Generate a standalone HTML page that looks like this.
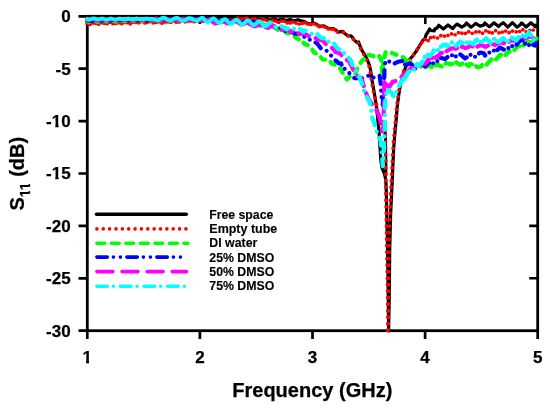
<!DOCTYPE html>
<html><head><meta charset="utf-8">
<style>
html,body{margin:0;padding:0;background:#fff;width:550px;height:408px;overflow:hidden}
svg{display:block}
text{font-family:"Liberation Sans",Arial,sans-serif;font-weight:bold;fill:#000;stroke:#000;stroke-width:0.25px}
.lg text{stroke-width:0.12px}
</style></head><body>
<svg width="550" height="408" viewBox="0 0 550 408">
<!-- frame -->
<g stroke="#000" fill="none" stroke-linecap="butt">
<rect x="87.3" y="16.3" width="450.4" height="314.4" stroke-width="2.8"/>
<!-- left ticks (outward) -->
<path stroke-width="2.7" d="M78.5 16.3H87.3M78.5 68.7H87.3M78.5 121.1H87.3M78.5 173.5H87.3M78.5 225.9H87.3M78.5 278.3H87.3M78.5 330.7H87.3"/>
<!-- bottom ticks (outward) -->
<path stroke-width="2.7" d="M87.3 330.7V339M199.9 330.7V339M312.5 330.7V339M425.1 330.7V339M537.7 330.7V339"/>
<!-- right ticks (inward) -->
<path stroke-width="2.6" d="M529.2 68.7H537.7M529.2 121.1H537.7M529.2 173.5H537.7M529.2 225.9H537.7M529.2 278.3H537.7"/>
<!-- top ticks (inward) -->
<path stroke-width="2.6" d="M199.9 16.3V24M312.5 16.3V24M425.3 16.3V24"/>
</g>
<!-- curves -->
<g id="curves" fill="none" stroke-linejoin="round" stroke-linecap="round">
<path d="M87.0 18.2 120.0 18.0 160.0 17.8 200.0 17.8 230.0 18.6 234.0 18.0 238.0 19.4 242.0 18.1 246.0 19.6 250.0 18.7 254.0 19.7 255.0 19.3 258.0 18.8 262.0 19.8 266.0 18.6 270.0 20.2 274.0 18.8 278.0 20.4 280.0 19.6 282.0 19.0 286.0 20.6 290.0 19.6 294.0 20.8 298.0 19.7 300.0 20.5 304.8 21.6 305.0 22.3 309.5 24.0 312.0 23.5 314.2 23.1 318.0 25.2 319.0 26.4 323.8 25.9 327.0 27.7 328.5 28.7 333.2 28.5 336.0 30.2 338.0 32.1 342.8 31.3 344.0 32.9 347.5 35.5 351.0 35.9 352.2 36.9 354.0 39.9 357.0 42.5 358.6 42.0 360.0 46.0 362.2 50.8 364.7 54.5 367.1 59.4 369.6 65.5 370.8 71.6 371.8 79.0 373.8 90.0 376.6 107.2 377.8 119.5 379.0 131.7 379.8 144.0 380.8 160.0 382.0 168.0 384.5 174.0 385.8 180.0 386.3 192.0 386.8 215.0 387.6 250.0 388.3 300.0 388.6 331.0 389.2 300.0 389.7 250.0 390.6 215.0 391.7 192.0 392.7 170.0 393.6 150.0 394.3 140.0 395.2 130.0 396.2 119.5 397.3 106.0 398.6 96.0 400.0 87.0 401.5 80.0 403.5 73.0 405.5 67.5 408.3 61.0 412.7 56.0 417.1 50.0 420.0 45.0 423.0 40.0 425.0 38.7 426.0 35.0 428.0 32.0 429.6 29.0 431.0 30.5 434.2 30.9 434.8 29.0 437.0 28.0 438.8 25.3 443.4 29.0 446.0 26.8 448.0 25.0 452.6 28.6 455.0 25.8 457.2 24.1 461.8 27.2 465.0 25.2 466.4 23.0 471.0 27.2 474.0 24.9 475.6 23.3 480.2 26.1 484.0 24.9 484.8 23.0 489.4 26.9 494.0 22.8 498.6 26.5 500.0 25.0 503.2 22.7 507.8 27.2 512.4 22.7 517.0 27.2 520.0 25.0 521.6 22.9 526.2 27.0 530.8 22.8 535.4 26.7 536.0 25.2" stroke="#000" stroke-width="3.2"/>
<path d="M384.9 128.0 385.5 140.0 385.8 160.0 385.9 175.0" stroke="#000" stroke-width="3"/>
<path d="M87.0 23.6 90.0 24.5 94.0 22.4 98.0 24.5 100.0 23.4 102.0 22.3 106.0 24.2 110.0 22.3 114.0 24.2 118.0 22.4 120.0 23.0 122.0 23.7 126.0 21.8 130.0 24.0 134.0 21.7 138.0 23.3 142.0 21.5 146.0 23.7 147.0 22.5 150.0 21.5 154.0 23.2 158.0 21.4 162.0 23.2 166.0 21.4 170.0 22.7 174.0 20.7 175.0 21.9 178.0 22.7 182.0 20.7 186.0 22.2 190.0 20.6 194.0 21.7 198.0 20.2 200.0 20.8 202.0 21.8 206.0 19.4 210.0 21.6 214.0 19.0 218.0 20.7 222.0 19.2 226.0 20.7 230.0 19.5 234.0 20.4 238.0 18.0 242.0 19.6 243.0 18.6 246.0 17.9 250.0 19.8 254.8 18.4 255.0 19.3 259.5 20.7 264.2 19.4 267.0 20.6 269.0 21.6 273.8 20.2 278.5 22.6 279.5 21.5 283.2 20.6 288.0 23.4 291.7 22.5 292.8 21.8 297.5 23.7 300.0 24.2 304.8 22.4 305.0 23.0 309.5 24.7 312.0 24.3 314.2 23.7 318.0 25.6 319.0 26.8 323.8 26.3 327.0 28.1 328.5 29.1 333.2 28.9 336.0 30.6" stroke="#f00" stroke-width="3.7" stroke-dasharray="0 3.2"/>
<path d="M388.0 330.2 387.8 300.0 386.8 250.0 386.3 215.0 385.8 192.0 385.8 170.0 385.5 145.0 384.8 132.0 382.0 128.0 379.5 122.0 378.1 114.6 376.2 102.8 373.4 91.0 371.4 80.0 370.4 72.6 369.2 66.5 366.8 60.4 364.5 55.5 362.0 51.5 360.0 47.0 358.6 43.0 357.0 43.2 354.0 40.3 352.2 37.3 351.0 36.3 347.5 35.9 344.0 33.3 342.8 31.7 338.0 32.5 336.0 30.6" stroke="#f00" stroke-width="3.8" stroke-dasharray="0 6.5"/>
<path d="M388.0 330.2 388.6 300.0 389.0 250.0 389.9 215.0 390.8 192.0 392.0 170.0 393.0 150.0 393.6 140.0 394.6 130.0 395.6 119.4 396.8 106.0 398.1 96.0 399.5 87.0 401.0 80.0 403.0 73.0 405.0 67.5 407.8 61.5 412.2 56.5 416.6 50.5 419.5 45.5" stroke="#f00" stroke-width="3.8" stroke-dasharray="0 6.5"/>
<path d="M419.5 45.5 422.5 41.5 425.5 39.0 428.1 40.6 428.7 38.8 432.6 36.3 434.6 37.5 437.1 38.3 439.7 36.5 441.6 35.1 446.1 36.6 448.0 35.3 450.6 33.8 454.4 33.8 455.1 34.8 459.6 32.0 464.1 34.2 468.6 31.4 469.1 32.4 473.1 33.5 477.6 30.9 482.1 33.6 483.8 32.0 486.6 30.3 491.1 33.7 495.6 30.7 500.1 33.6 504.6 30.5 509.1 32.8 509.4 31.9 513.6 30.7 518.1 32.6 522.6 29.4 524.0 30.8 527.1 32.2 531.6 29.5 536.0 30.8" stroke="#f00" stroke-width="3.7" stroke-dasharray="0 4"/>
<path d="M87.0 21.6 88.9 22.2 93.4 20.4 97.9 22.2 102.4 20.3 106.9 21.7 111.4 20.4 115.9 21.8 120.0 20.8 120.4 19.8 124.9 21.4 129.4 19.5 133.9 20.9 138.4 19.7 142.9 21.1 147.4 18.9 150.0 19.9 151.9 20.6 156.4 19.1 160.9 20.6 165.4 18.9 169.9 20.5 174.4 19.0 178.9 20.7 183.4 19.1 187.9 20.6 192.4 18.6 196.9 20.6 200.0 19.5 201.4 18.6 205.9 20.9 210.4 19.5 214.9 21.5 219.4 19.9 223.9 21.8 228.4 20.4 230.0 21.5 232.9 22.6 237.4 21.1 241.9 23.7 246.4 22.1 250.9 24.7 255.0 24.0 255.4 23.2 259.9 25.9 264.4 24.7" stroke="#0f0" stroke-width="4.0"/>
<path d="M264.4 24.7 267.0 26.0 268.9 27.3 273.4 26.5 277.9 29.7 279.5 29.1 282.4 29.3 286.9 33.2 291.4 33.0 291.7 34.0 295.9 37.6 300.0 40.0 300.4 39.3 304.9 44.3 306.4 44.4 309.4 46.2 312.8 50.3 313.9 52.4 318.4 54.2 320.7 57.2 322.9 59.6 325.0 59.7 327.4 59.3 329.9 61.0 331.9 63.6 334.8 64.6 336.4 65.1 341.0 69.5 344.6 76.9 347.1 79.4 350.8 75.7 355.7 73.2 358.1 65.9 362.4 60.6 368.2 54.7 374.0 56.2 378.5 54.7 381.2 60.0 382.3 74.0 383.4 62.0 385.9 51.5 390.3 52.5 396.0 54.5 403.4 57.5 405.7 60.7" stroke="#0f0" stroke-width="4.3" stroke-dasharray="5 6.8"/>
<path d="M405.7 60.7 410.2 61.5 410.7 63.6 414.7 66.7 416.3 66.4 419.2 65.0 423.7 68.0 427.3 66.4 428.2 65.2 432.7 67.8 437.2 64.0 439.7 65.7 441.7 66.5 446.2 63.0 450.7 64.4 454.4 62.8 455.2 61.6 459.7 64.8 464.2 62.7 468.7 66.1 469.1 64.3 473.2 64.0 477.7 67.3 480.9 66.5 482.2 65.0 486.7 65.0 487.4 63.5 491.2 59.5 494.7 59.1 495.7 59.9 500.2 54.6 504.7 55.8 509.2 50.6 509.4 51.8 513.7 50.7 518.2 45.7 522.7 46.9 524.0 44.4 527.2 42.0 531.5 41.5 531.7 42.4 536.5 38.5" stroke="#0f0" stroke-width="4.3" stroke-dasharray="7 5.2"/>
<path d="M87.0 20.6 92.0 21.2 96.5 19.8 101.0 21.0 105.5 19.6 110.0 21.0 114.5 19.7 119.0 20.7 123.6 19.5 128.1 20.6 132.6 19.2 137.1 20.5 141.6 19.1 146.1 20.4 150.0 19.6 150.6 19.2 155.1 20.0 159.6 19.1 164.1 20.2 168.6 18.9 173.1 20.2 177.6 19.1 182.1 20.2 186.6 19.0 191.1 19.9 195.6 19.0 200.0 19.5 204.1 20.4 208.6 19.1 213.1 21.5 217.6 19.6 222.1 21.5 226.6 19.7 230.0 21.0 231.1 22.4 235.6 20.1 240.1 22.9 244.6 21.5 249.1 23.5 253.6 21.6 255.0 23.0 258.1 24.5 262.6 23.8" stroke="#00f" stroke-width="3.8"/>
<path d="M267.1 26.7 270.0 26.0 271.6 25.0 276.1 28.5 279.5 28.0 280.6 27.6 285.1 31.4 285.6 30.4 289.6 30.4 291.7 31.6 294.1 33.4 298.6 33.8 303.1 37.2 304.0 36.8 307.6 37.4 312.1 42.2 314.8 42.5 316.6 42.7 321.1 48.6 324.6 50.3 325.6 50.0 329.5 53.2 330.0 54.6 334.5 58.6 334.8 59.7 339.0 63.5 341.0 63.4 343.4 68.3 343.5 67.4 348.0 72.7 349.5 73.2 354.4 78.1 358.1 78.1 362.0 78.5 365.9 77.6 369.8 74.7 373.7 77.6 379.6 75.5 380.6 82.5 381.6 97.3 382.8 105.0 383.8 90.0 384.5 70.0 385.2 62.0 387.5 60.0 392.4 64.5 397.9 61.8 403.4 60.8 405.0 64.5" stroke="#00f" stroke-width="4.2" stroke-dasharray="8 6.8 0 6.6 0 6.8"/>
<path d="M405.0 64.5 407.0 64.5 410.0 63.4 414.4 66.4 415.0 68.7 420.0 63.6 423.6 64.5 425.0 66.4 430.0 62.1 431.0 63.6 435.0 63.1 439.7 59.1 440.0 57.5 445.0 59.1 450.0 55.1 454.4 55.4 455.0 56.9 460.0 54.1 465.0 58.4 469.1 56.2 470.0 54.6 475.0 56.8 480.0 52.5 483.8 53.2 485.0 55.5 487.4 54.7 490.0 51.9 494.7 50.3 495.0 51.8 500.0 47.7 505.0 50.2 509.4 47.4 510.0 45.9 515.0 46.4 520.0 40.7 524.0 40.0 525.0 43.6 528.5 45.9 530.0 43.6 535.0 45.6 536.0 43.0" stroke="#00f" stroke-width="4.2" stroke-dasharray="8 5.2 0 5 0 5.2"/>
<path d="M87.0 19.8 88.5 20.4 93.0 18.8 97.5 20.7 102.0 18.8 106.5 20.3 111.0 19.0 115.5 20.3 120.0 18.7 124.4 20.3 128.9 18.9 133.4 20.2 137.9 18.8 142.4 20.3 146.9 18.4 150.0 19.3 151.4 20.0 151.5 19.3 153.0 19.3 154.5 19.3 155.9 18.4 156.1 19.3 157.6 19.3 159.1 19.4 160.4 20.1 160.6 19.4 162.1 19.4 163.6 19.4 164.9 18.7 165.2 19.4 166.7 19.4 168.2 19.4 169.4 19.9 169.7 19.4 171.2 19.4 172.7 19.4 173.9 18.8 174.2 19.4 175.8 19.5 177.3 19.5 178.4 20.4 178.8 19.5 180.3 19.5 181.8 19.5 182.9 18.6 183.3 19.5 184.8 19.5 186.4 19.5 187.4 20.5 187.9 19.5 189.4 19.5 190.9 19.5 191.9 19.1 192.4 19.6 193.9 19.6 195.5 19.6 196.4 20.5 197.0 19.6 198.5 19.6 200.0 19.6 201.5 20.1 203.0 20.6 204.5 20.7 206.0 20.4 207.5 19.8 209.0 19.7 210.5 20.3 212.0 21.4 213.5 22.6 215.0 23.4 216.5 23.5 218.0 22.9 219.5 21.9 221.1 21.1 222.6 21.0 224.2 21.7 225.7 22.6 227.3 23.4 228.8 23.6 230.4 23.0 231.9 21.9 233.5 21.0 235.0 20.6 236.5 21.2 238.0 22.4 239.5 23.6 241.0 24.4 242.5 24.5 244.0 23.9 245.5 23.2 247.0 22.7 248.5 22.9 250.0 23.7 251.5 24.9 253.1 25.9 254.6 26.4 256.2 26.1 257.7 25.3 259.2 24.5 260.8 24.2 262.3 24.6 263.8 25.7 265.4 26.8" stroke="#f0f" stroke-width="4.0"/>
<path d="M263.8 25.7 265.4 26.8 266.9 27.6 268.5 27.6 270.0 26.9 271.6 26.2 273.1 25.8 274.7 26.2 276.2 27.2 277.8 28.5 279.4 29.6 280.9 30.1 282.5 29.8 284.0 29.2 285.6 29.1 287.1 29.6 288.7 30.3 290.2 30.9 290.4 32.0 291.7 31.2 293.2 31.6 294.8 32.0 294.9 31.3 296.3 32.4 297.8 32.8 299.4 34.2 303.9 32.6 305.0 33.8 308.4 36.1 312.9 35.7 314.8 37.5 317.4 39.7 321.9 39.9 324.6 42.5 326.4 44.6 330.9 47.0 334.4 50.3 335.4 52.1 339.9 53.4 343.4 57.3 344.4 59.0 348.9 60.8 349.5 62.2 353.2 69.5 356.9 75.7 361.8 79.0 365.3 91.5 369.0 100.0 371.8 103.8 375.7 108.7 379.6 116.6 381.0 124.4 382.3 131.5 383.3 128.0 384.0 100.0 384.5 80.0 385.7 83.6 389.2 87.0 392.6 81.9 396.0 81.0 399.4 78.5 403.4 75.0 405.5 74.2" stroke="#f0f" stroke-width="4.2" stroke-dasharray="12.5 7.4"/>
<path d="M405.5 74.2 410.5 68.4 412.6 68.0 415.5 67.7 420.5 64.1 421.8 64.5 425.5 63.4 430.5 56.9 431.0 58.0 435.5 57.5 439.7 54.5 440.5 53.0 445.5 52.5 446.0 51.5 450.5 48.7 454.4 48.1 455.5 48.9 460.5 46.3 465.5 48.1 469.1 46.6 470.5 45.3 475.5 47.6 480.5 44.9 483.8 45.9 485.5 46.9 490.5 44.2 494.7 44.4 495.5 45.0 500.5 42.3 505.5 43.5 509.4 41.5 510.5 40.4 515.5 40.9 520.5 36.8 524.0 37.0 525.5 38.2 530.0 36.5 530.5 35.6 535.5 40.8 536.0 40.0" stroke="#f0f" stroke-width="4.2" stroke-dasharray="12 5.2"/>
<path d="M87.0 19.0 89.3 19.3 93.6 18.4 97.9 19.4 102.2 18.5 106.5 19.6 110.8 18.5 115.1 19.5 119.4 18.7 120.0 19.0 121.5 19.0 123.0 19.0 123.7 19.4 124.5 19.0 126.0 19.0 127.5 19.0 128.0 18.5 129.0 19.0 130.5 19.0 132.0 19.0 132.3 19.5 133.5 19.0 135.0 19.0 136.5 19.0 136.6 18.4 138.0 19.0 139.5 19.0 140.9 19.4 141.0 19.0 142.5 19.0 144.0 19.0 145.2 18.7 145.5 19.0 147.0 19.0 148.5 19.0 149.5 19.4 150.0 19.0 151.5 18.8 153.0 18.8 154.5 19.4 156.1 20.1 157.6 20.5 159.1 19.9 160.6 18.9 162.1 18.0 163.6 17.7 165.2 18.1 166.7 19.1 168.2 20.2 169.7 20.7 171.2 20.5 172.7 19.7 174.2 18.6 175.8 17.9 177.3 17.9 178.8 18.7 180.3 19.7 181.8 20.6 183.3 20.9 184.8 20.4 186.4 19.4 187.9 18.4 189.4 18.0 190.9 18.3 192.4 19.3 193.9 20.0 195.5 20.3 197.0 20.4 198.5 19.9 200.0 18.9 201.5 18.0 203.0 17.9 204.5 19.5 206.0 21.3 207.5 22.3 209.0 21.8 210.5 20.3 212.0 18.8 213.5 18.3 215.0 19.1 216.5 20.9 218.0 22.5 219.5 23.0 221.0 22.1 222.5 20.5 224.0 19.2 225.5 19.1 227.0 20.4 228.5 22.2 230.0 23.5 231.6 23.5 233.1 22.2 234.7 20.5 236.2 19.7 237.8 20.4 239.4 22.1 240.9 23.9 242.5 24.4 244.1 23.5 245.6 21.8 247.2 20.5 248.8 20.6 250.3 22.1 251.9 24.0 253.4 25.1 255.0 24.7 256.5 23.2 258.0 21.7 259.5 21.3 261.0 22.2 262.5 24.0 264.0 25.7 265.5 26.2" stroke="#0ff" stroke-width="3.8"/>
<path d="M264.0 25.7 265.5 26.2 267.0 25.4 268.5 23.8 270.0 22.6 271.6 22.8 273.1 24.4 274.7 26.5 276.2 28.0 277.8 27.8 279.4 26.7 280.9 26.1 282.5 26.5 284.0 27.4 285.6 27.9 286.3 29.3 290.6 27.1 294.9 29.5 295.4 28.5 299.2 28.3 303.5 31.8 304.0 30.4 307.8 30.8 312.1 34.3 313.7 33.4 316.4 33.3 320.7 37.6 324.6 38.5 325.0 37.7 329.3 42.5 333.6 42.6 334.4 44.4 337.9 49.0 342.2 49.8 343.4 52.4 346.5 56.4 349.5 58.5 350.8 60.6 353.2 67.1 358.1 74.4 361.8 83.0 364.3 91.6 366.9 97.0 369.8 102.8 371.3 108.7 371.8 116.6 373.7 121.5 375.7 128.3 377.6 134.2 380.6 140.2 382.0 155.0 382.8 166.0 383.6 160.0 384.0 143.6 384.9 126.5 384.9 109.3 385.7 95.6 387.4 88.7 390.9 92.2 394.3 97.3 397.7 88.7 400.3 83.6 403.4 78.3 404.3 78.9" stroke="#0ff" stroke-width="4.3" stroke-dasharray="8 6.8 0 6.8"/>
<path d="M404.3 78.9 408.6 71.8 410.7 71.0 412.9 70.9 417.2 64.0 418.0 65.4 421.5 63.1 425.4 55.5 425.8 54.1 430.1 55.9 432.8 52.5 434.4 49.2 438.7 50.3 439.7 47.5 443.0 45.0 447.0 45.0 447.3 46.2 451.6 42.2 454.4 44.0 455.9 45.8 460.2 41.5 464.5 44.3 468.8 40.8 469.1 42.0 473.1 44.1 477.4 38.9 481.7 43.2 483.8 40.5 486.0 38.3 490.3 42.4 494.6 38.4 494.7 40.7 498.9 42.0 503.2 38.2 507.5 41.6 509.4 40.0 511.8 37.6 516.1 40.3 520.4 34.9 524.0 35.6 524.7 37.8 529.0 32.4 530.0 34.1 533.3 39.5 536.0 41.0" stroke="#0ff" stroke-width="4.4" stroke-dasharray="9 5.2 0 5.2"/>
</g>

<!-- y tick labels -->
<g font-size="17" text-anchor="end">
<text x="70.6" y="21.8">0</text>
<text x="70.6" y="74.5">-5</text>
<text x="70.6" y="126.9">-10</text>
<text x="70.6" y="179.3">-15</text>
<text x="70.6" y="231.7">-20</text>
<text x="70.6" y="284.1">-25</text>
<text x="70.6" y="336.5">-30</text>
</g>
<!-- x tick labels -->
<g font-size="17" text-anchor="middle">
<text x="87.3" y="362.5">1</text>
<text x="199.9" y="362.5">2</text>
<text x="312.5" y="362.5">3</text>
<text x="425.1" y="362.5">4</text>
<text x="537.7" y="362.5">5</text>
</g>
<text x="312.3" y="396.5" font-size="20" text-anchor="middle">Frequency (GHz)</text>
<text transform="translate(23.9 173.7) rotate(-90)" font-size="20" text-anchor="middle">S<tspan font-size="14" dy="6">11</tspan><tspan dy="-6"> (dB)</tspan></text>
<!-- hide Liberation foot serif on "1" (Arial-style 1) -->
<g fill="#fff">
<rect x="82.5" y="361" width="3.5" height="3"/><rect x="89" y="361" width="3.5" height="3"/>
<rect x="52" y="125" width="3.3" height="3"/><rect x="58.6" y="125" width="2.6" height="3"/>
<rect x="52" y="177" width="3.3" height="3"/><rect x="58.6" y="177" width="2.6" height="3"/>
<rect x="27.8" y="181.5" width="2.8" height="2.7"/><rect x="27.8" y="186.8" width="2.8" height="4.4"/><rect x="27.8" y="193.8" width="2.8" height="3.2"/>
</g>
<!-- legend -->
<g fill="none" stroke-linecap="round">
<path d="M96.5 214.3H186.3" stroke="#000" stroke-width="3.6"/>
<path d="M96.9 228.9H188" stroke="#f00" stroke-width="3.6" stroke-dasharray="0 6.36"/>
<path d="M96.9 243.2H188" stroke="#0f0" stroke-width="3.6" stroke-dasharray="7.8 6.7"/>
<path d="M96.9 257.1H182" stroke="#00f" stroke-width="3.6" stroke-dasharray="10.4 6.1 0 7 0 6.5"/>
<path d="M96.9 271.6H186.5" stroke="#f0f" stroke-width="3.6" stroke-dasharray="16 9.1"/>
<path d="M96.9 286.2H188" stroke="#0ff" stroke-width="3.6" stroke-dasharray="10.4 6.2 0 7"/>
</g>
<g font-size="12" class="lg">
<text x="209.3" y="218.6" textLength="64" lengthAdjust="spacingAndGlyphs">Free space</text>
<text x="209.3" y="232.9" textLength="68" lengthAdjust="spacingAndGlyphs">Empty tube</text>
<text x="209.3" y="247.3" textLength="48" lengthAdjust="spacingAndGlyphs">DI water</text>
<text x="209.3" y="261.6" textLength="65" lengthAdjust="spacingAndGlyphs">25% DMSO</text>
<text x="209.3" y="276" textLength="65" lengthAdjust="spacingAndGlyphs">50% DMSO</text>
<text x="209.3" y="290.3" textLength="65" lengthAdjust="spacingAndGlyphs">75% DMSO</text>
</g>
</svg>
</body></html>
